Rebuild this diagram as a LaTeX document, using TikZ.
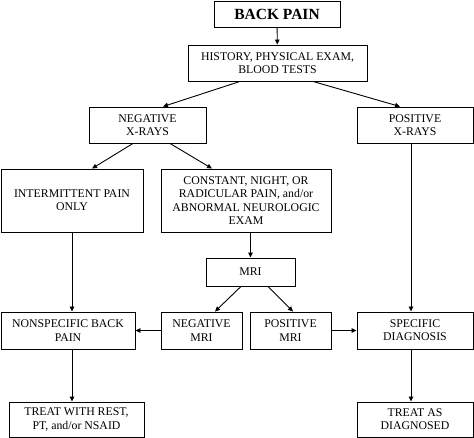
\documentclass[tikz,border=0pt]{standalone}
\usepackage{fontspec}
\setmainfont{Liberation Serif}
\usepackage{tikz}
\usetikzlibrary{arrows.meta,positioning,calc}

\begin{document}
\begin{tikzpicture}[x=1pt,y=-1pt,
  box/.style={draw,line width=0.9pt,align=center,inner sep=0pt,font=\fontsize{11.8}{13.3}\selectfont},
  >={Triangle[length=5pt,width=4.5pt]}]
\useasboundingbox (0,0) rectangle (474,438);
\node[box,minimum width=126pt,minimum height=26pt,font=\fontsize{15.5}{17}\selectfont\bfseries] (back) at (277,14) {BACK PAIN};
\node[box,minimum width=179pt,minimum height=36pt] (hist) at (277.5,63) {HISTORY, PHYSICAL EXAM,\\ BLOOD TESTS};
\node[box,minimum width=117pt,minimum height=36pt] (negx) at (147.5,125) {NEGATIVE\\ X-RAYS};
\node[box,minimum width=116pt,minimum height=36pt] (posx) at (415,125) {POSITIVE\\ X-RAYS};
\node[box,minimum width=142pt,minimum height=63pt] (inter) at (72,200.5) {INTERMITTENT PAIN\\ ONLY};
\node[box,minimum width=170pt,minimum height=63pt] (const) at (246,200.5) {CONSTANT, NIGHT, OR\\ RADICULAR PAIN, and/or\\ ABNORMAL NEUROLOGIC\\ EXAM};
\node[box,minimum width=89pt,minimum height=28pt] (mri) at (250.5,272) {MRI};
\node[box,minimum width=134pt,minimum height=37pt] (nonspec) at (68,330.5) {NONSPECIFIC BACK\\ PAIN};
\node[box,minimum width=81pt,minimum height=37pt] (negmri) at (201.5,330.5) {NEGATIVE\\ MRI};
\node[box,minimum width=81pt,minimum height=37pt] (posmri) at (290.5,330.5) {POSITIVE\\ MRI};
\node[box,minimum width=116pt,minimum height=37pt] (spec) at (415,330.5) {SPECIFIC\\ DIAGNOSIS};
\node[box,minimum width=135pt,minimum height=35pt] (rest) at (76.5,419.5) {TREAT WITH REST,\\ PT, and/or NSAID};
\node[box,minimum width=116pt,minimum height=35pt] (diag) at (415,419.5) {TREAT AS\\ DIAGNOSED};
\draw[->,line width=0.9pt] (back) -- (hist);
\draw[->,line width=0.9pt] ([xshift=-37.5pt]hist.south) -- ([xshift=15.5pt]negx.north);
\draw[->,line width=0.9pt] ([xshift=35.5pt]hist.south) -- ([xshift=-15pt]posx.north);
\draw[->,line width=0.9pt] ([xshift=-14.5pt]negx.south) -- ([xshift=20pt]inter.north);
\draw[->,line width=0.9pt] ([xshift=22.5pt]negx.south) -- ([xshift=-34pt]const.north);
\draw[->,line width=0.9pt] (mri |- const.south) -- (mri.north);
\draw[->,line width=0.9pt] ([xshift=-9.5pt]mri.south) -- ([xshift=13.5pt]negmri.north);
\draw[->,line width=0.9pt] ([xshift=17.5pt]mri.south) -- ([xshift=2.5pt]posmri.north);
\draw[->,line width=0.9pt] (negmri.west) -- (nonspec.east);
\draw[->,line width=0.9pt] (posmri.east) -- (spec.west);
\draw[->,line width=0.9pt] (inter.south) -- (inter |- nonspec.north);
\draw[->,line width=0.9pt] ([xshift=-4pt]posx.south) -- ([xshift=-4pt]spec.north);
\draw[->,line width=0.9pt] ([xshift=4pt]nonspec.south) -- ([xshift=-4.5pt]rest.north);
\draw[->,line width=0.9pt] ([xshift=-4pt]spec.south) -- ([xshift=-4pt]diag.north);
\end{tikzpicture}
\end{document}
